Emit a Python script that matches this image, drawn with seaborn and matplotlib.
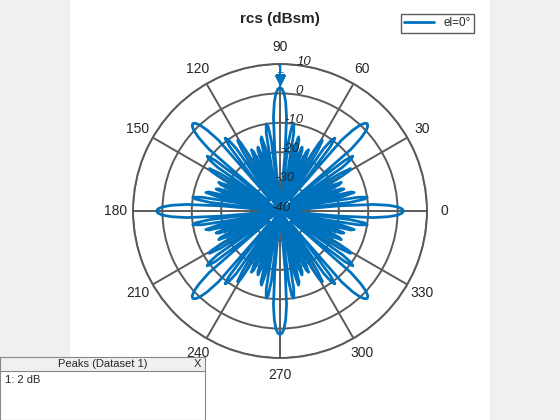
import numpy as np
import pandas as pd
import matplotlib
matplotlib.use("Agg")
import matplotlib.pyplot as plt
import seaborn as sns

# one-octant pattern (0..45 deg, 1 deg step), dBsm
octant_deg = list(range(0, 46))
octant_db = [2, 1.5, 0, -3, -8, -20, -40, -16, -11, -10, -13, -25, -40, -18, -14, -15,
             -22, -40, -20, -17, -18, -26, -40, -22, -18, -17, -20, -30, -40, -18, -13,
             -12, -16, -30, -40, -14, -10, -9, -12, -25, -35, -8, -3, 0, 1.5, 2]
angle_ticks = list(range(0, 360, 30))
r_ticks = [-40, -30, -20, -10, 0, 10]
peak_angle = 90
peak_value = 2

# assemble full circle by symmetry of the octant
quad = octant_db + octant_db[-2::-1]
full_db = []
for q in range(4):
    full_db += quad[:-1]
full_db.append(quad[0])
full_deg = np.arange(len(full_db))
df = pd.DataFrame({"theta": np.deg2rad(full_deg), "r": full_db})

sns.set_style("white")
plt.rcParams['font.family'] = ['Liberation Sans', 'DejaVu Sans']
fig = plt.figure(figsize=(5.6, 4.2), dpi=100, facecolor="#f0f0f0")
fig.patches.append(plt.Rectangle((70/560, 0), 420/560, 1, transform=fig.transFigure,
                                 facecolor="white", edgecolor="none", zorder=-1))
ax = fig.add_axes([0.2375, 0.1476, 0.525, 0.70], projection="polar")
ax.set_facecolor("white")
ax.set_axisbelow(True)
sns.lineplot(data=df, x="theta", y="r", ax=ax, sort=False, color="#0072BD",
             linewidth=2, label="el=0°", estimator=None, zorder=3)
ax.set_ylim(-40, 10)
ax.set_yticks(r_ticks)
ax.set_yticklabels([])
for v in r_ticks:
    ax.text(np.deg2rad(81), v + 1.2, str(v), fontstyle="italic", fontsize=9.5,
            ha="center", va="center", color="#262626", zorder=5)
ax.set_xticks(np.deg2rad(angle_ticks))
ax.set_xticklabels([str(a) for a in angle_ticks], fontsize=10)
ax.tick_params(axis="x", pad=2)
ax.grid(True, color="#5a5a5a", linewidth=1.4)
ax.spines["polar"].set_color("#5a5a5a")
ax.spines["polar"].set_linewidth(1.4)
ax.set_xlabel(""); ax.set_ylabel("")
ax.plot([np.deg2rad(peak_angle)], [peak_value + 2.5], marker="v", color="#0072BD",
        markersize=7, linestyle="none", zorder=4)
ax.text(np.deg2rad(peak_angle), peak_value + 5.8, "1", color="#0072BD",
        ha="center", va="center", fontsize=9)
ax.set_title("rcs (dBsm)", fontweight="bold", fontsize=11, pad=12)
leg = ax.legend(loc="upper right", bbox_to_anchor=(480/560, 1 - 8/420),
                bbox_transform=fig.transFigure, fontsize=8.5, frameon=True,
                fancybox=False, edgecolor="#333333", handlelength=2.5,
                borderpad=0.3)

# peaks panel
pax = fig.add_axes([0, 0, 205/560, 63/420])
pax.set_xticks([]); pax.set_yticks([])
pax.set_facecolor("white")
for s in pax.spines.values():
    s.set_color("#888888")
pax.axhspan(0.78, 1, color="#f0f0f0")
pax.axhline(0.78, color="#888888", lw=0.8)
pax.set_xlim(0, 1); pax.set_ylim(0, 1)
pax.text(0.5, 0.89, "Peaks (Dataset 1)", ha="center", va="center", fontsize=8)
pax.text(0.965, 0.89, "X", ha="center", va="center", fontsize=8)
pax.text(0.025, 0.64, f"1: {peak_value} dB", ha="left", va="center", fontsize=8)

fig.savefig("out.png", dpi=100, facecolor=fig.get_facecolor())
